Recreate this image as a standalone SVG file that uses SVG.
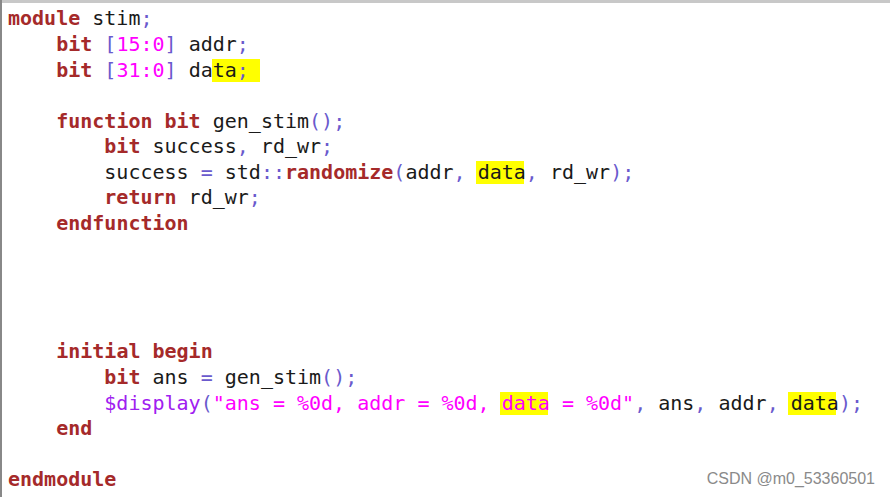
<svg xmlns="http://www.w3.org/2000/svg" width="890" height="497" viewBox="0 0 890 497">
<style>
text{font-family:"DejaVu Sans Mono",monospace;font-size:20px;fill:#1a1a1a;white-space:pre}
.k{fill:#a52a2a;font-weight:bold}
.p{fill:#6a5acd}
.n{fill:#ff00ff}
.f{fill:#a020f0}
.hl{fill:#ffff00}
</style>
<rect width="890" height="497" fill="#fff"/>
<line x1="0" y1="1.5" x2="890" y2="1.5" stroke="#c8c8c8" stroke-width="3"/>
<line x1="1" y1="0" x2="1" y2="497" stroke="#888" stroke-width="2"/>
<g id="highlights">
<rect class="hl" x="212" y="59" width="48" height="23"/>
<rect class="hl" x="476" y="161" width="48" height="23"/>
<rect class="hl" x="500" y="392" width="48" height="23"/>
<rect class="hl" x="788" y="392" width="48" height="23"/>
</g>
<g id="code" xml:space="preserve">
<text x="8" y="25"><tspan class="k">module</tspan> stim<tspan class="p">;</tspan></text>
<text x="8" y="51">    <tspan class="k">bit</tspan> <tspan class="p">[</tspan><tspan class="n">15:0</tspan><tspan class="p">]</tspan> addr<tspan class="p">;</tspan></text>
<text x="8" y="77">    <tspan class="k">bit</tspan> <tspan class="p">[</tspan><tspan class="n">31:0</tspan><tspan class="p">]</tspan> data<tspan class="p">;</tspan></text>
<text x="8" y="128">    <tspan class="k">function bit</tspan> gen_stim<tspan class="p">();</tspan></text>
<text x="8" y="153">        <tspan class="k">bit</tspan> success<tspan class="p">,</tspan> rd_wr<tspan class="p">;</tspan></text>
<text x="8" y="179">        success <tspan class="p">=</tspan> std<tspan class="p">::</tspan><tspan class="k">randomize</tspan><tspan class="p">(</tspan>addr<tspan class="p">,</tspan> data<tspan class="p">,</tspan> rd_wr<tspan class="p">);</tspan></text>
<text x="8" y="204">        <tspan class="k">return</tspan> rd_wr<tspan class="p">;</tspan></text>
<text x="8" y="230">    <tspan class="k">endfunction</tspan></text>
<text x="8" y="358">    <tspan class="k">initial begin</tspan></text>
<text x="8" y="384">        <tspan class="k">bit</tspan> ans <tspan class="p">=</tspan> gen_stim<tspan class="p">();</tspan></text>
<text x="8" y="410">        <tspan class="f">$display</tspan><tspan class="p">(</tspan><tspan class="n">"ans = %0d, addr = %0d, data = %0d"</tspan><tspan class="p">,</tspan> ans<tspan class="p">,</tspan> addr<tspan class="p">,</tspan> data<tspan class="p">);</tspan></text>
<text x="8" y="435">    <tspan class="k">end</tspan></text>
<text x="8" y="486"><tspan class="k">endmodule</tspan></text>
</g>
<text x="875" y="484" text-anchor="end" style="font-family:'Liberation Sans',sans-serif;font-size:16px;fill:#8a8a8a">CSDN @m0_53360501</text>
</svg>
